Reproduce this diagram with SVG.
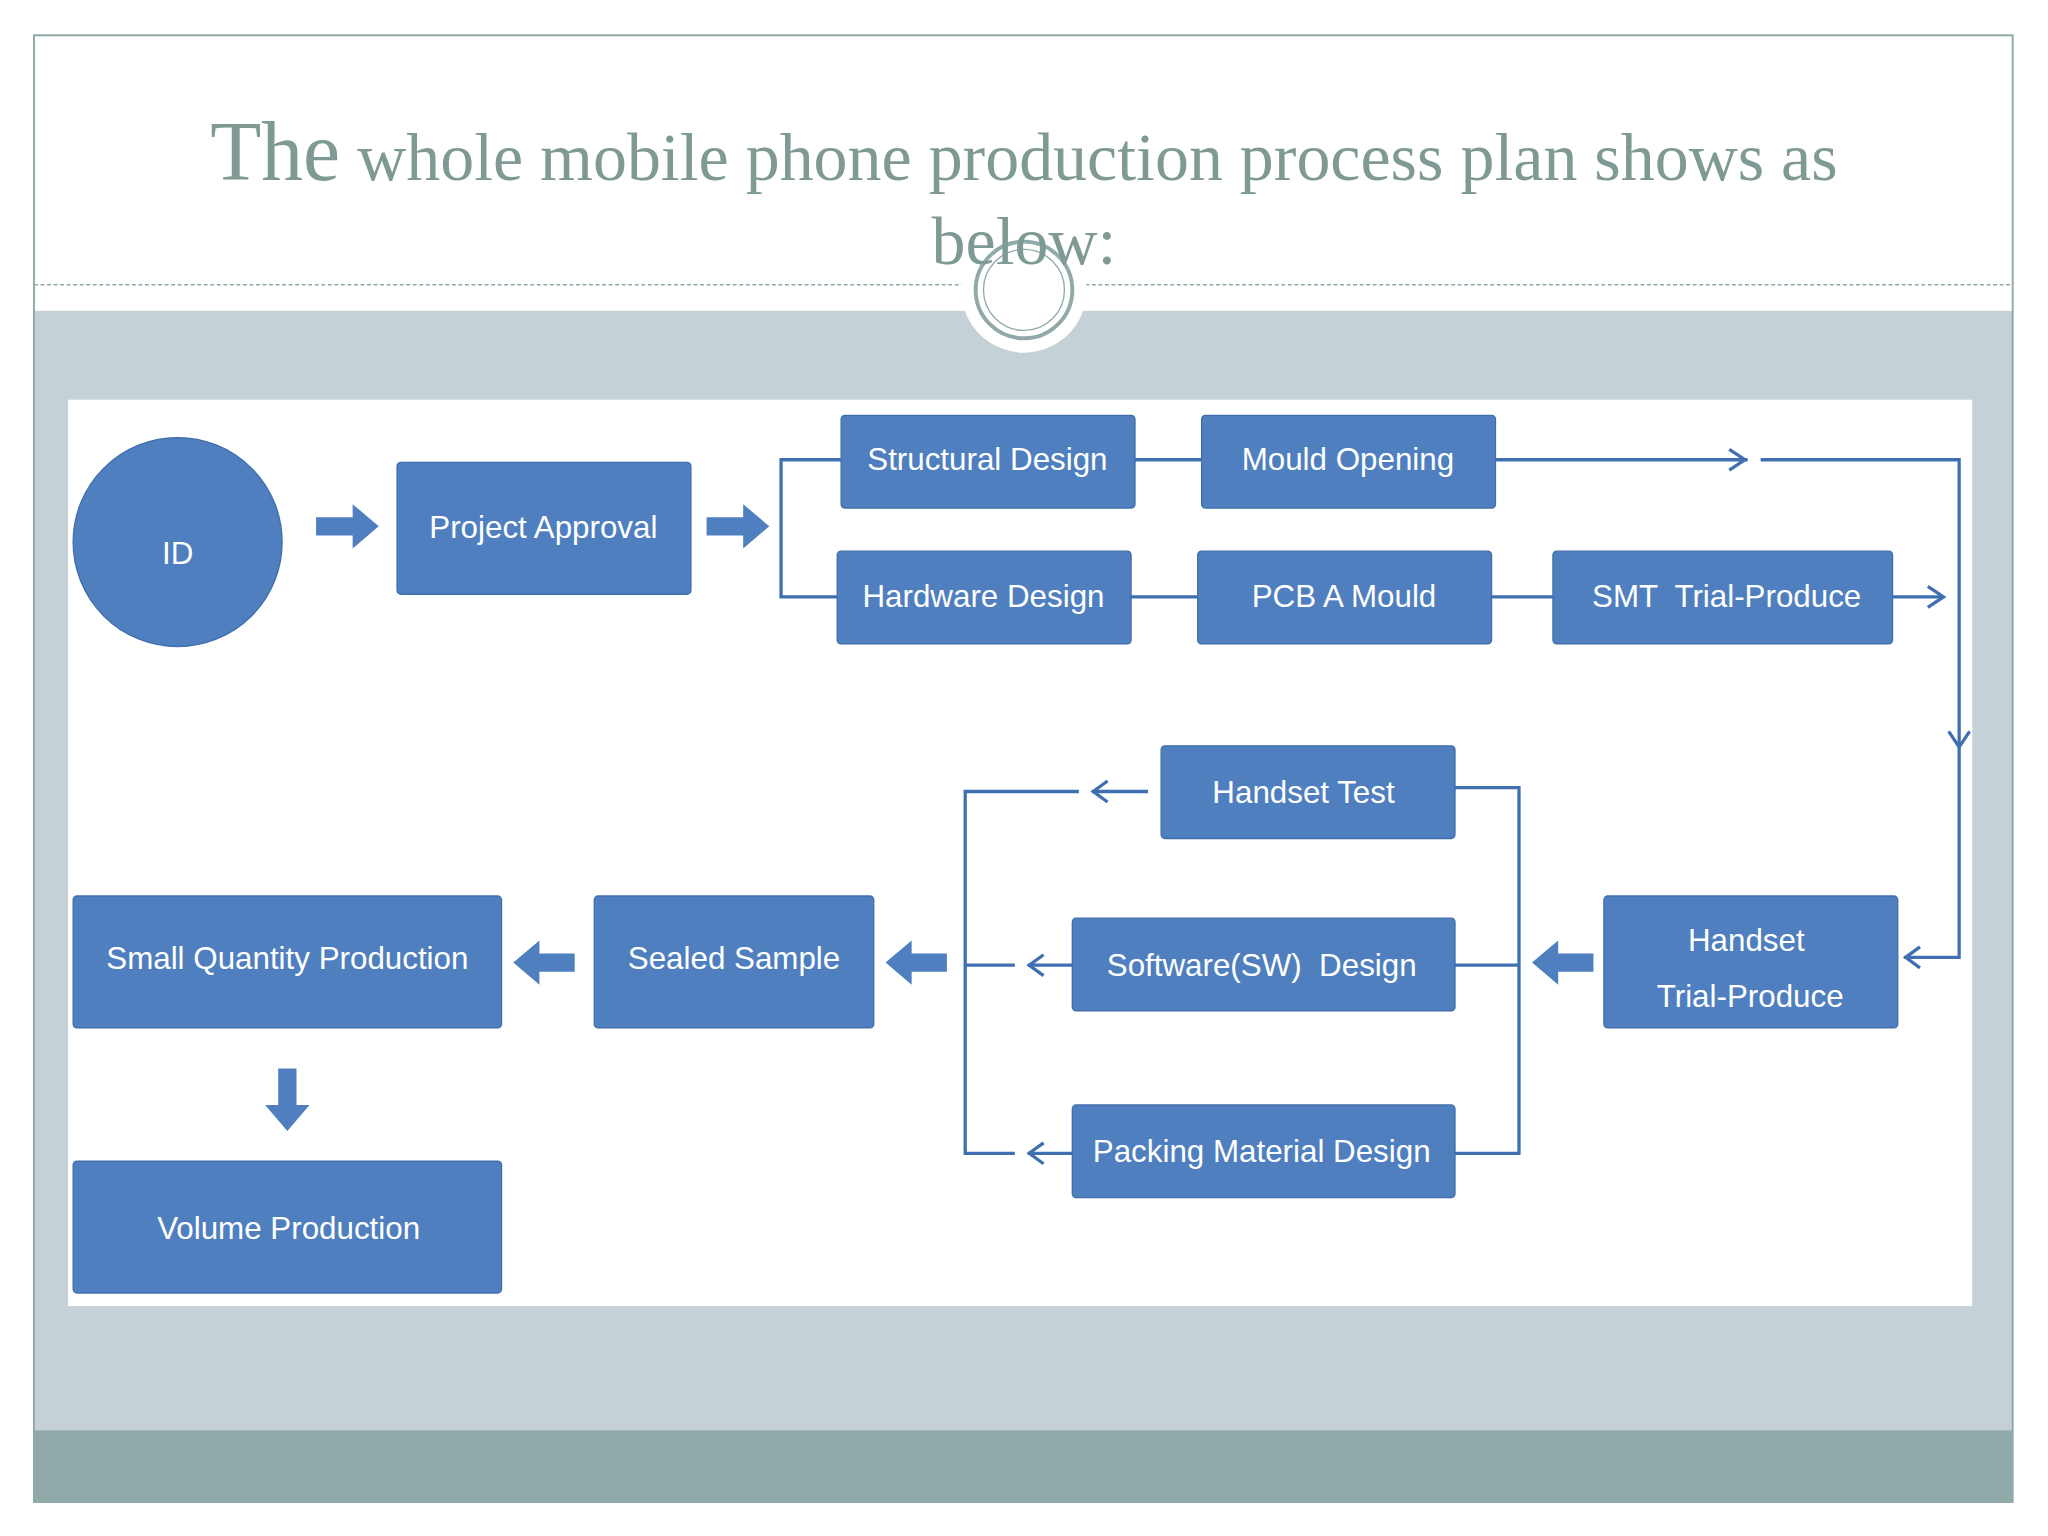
<svg xmlns="http://www.w3.org/2000/svg" width="2048" height="1536" viewBox="0 0 2048 1536">
<style>
.n{fill:#4f7fbf;stroke:#3f6eaa;stroke-width:1}
.t{font-family:"Liberation Sans",Arial,sans-serif;font-size:24px;fill:#fff;text-anchor:middle}
.c{fill:none;stroke:#3f6fb0;stroke-width:2.5}
.b{fill:#4f7fbf}
.ti{font-family:"Liberation Serif","Times New Roman",serif;fill:#7f9a95}
</style>
<rect width="2048" height="1536" fill="#fff"/>
<g transform="scale(1.3061)">
<rect x="26" y="238" width="1515" height="857" fill="#c5d1d7"/>
<rect x="26" y="1095" width="1515" height="55" fill="#8faaa9"/>
<rect x="26" y="27" width="1515" height="1123" fill="none" stroke="#8faaa9" stroke-width="1.5"/>
<line x1="26" y1="218" x2="1541" y2="218" stroke="#8faaa9" stroke-width="1" stroke-dasharray="3,2"/>
<circle cx="784" cy="222" r="48" fill="#fff"/>
<circle cx="784" cy="222" r="37" fill="none" stroke="#8faaa9" stroke-width="3"/>
<circle cx="784" cy="222" r="31" fill="none" stroke="#8faaa9" stroke-width="1"/>
<text class="ti" x="784" y="138" text-anchor="middle" font-size="52"><tspan font-size="64">The</tspan> whole mobile phone production process plan shows as</text>
<text class="ti" x="784" y="202" text-anchor="middle" font-size="52">below:</text>
<rect x="52" y="306" width="1458" height="694" fill="#fff"/>
<g id="connectors">
<path class="c" d="M644,352H598V457H641M869,352H920M866,457H917M1142,457H1189M1145,352H1338M1348,352H1500V733H1458M1449,457H1488"/>
<path class="c" d="M1324,344L1336,352L1324,360M1476,449L1488,457L1476,465M1492,560L1500,572L1508,560M1470,725L1459,733L1470,741"/>
<path class="c" d="M1114,603H1163V883H1114M1114,739H1163"/>
<path class="c" d="M879,606H836M826,606H739V883H777M787,883H821M739,739H777M787,739H821"/>
<path class="c" d="M848,598L837,606L848,614M799,731L788,739L799,747M799,875L788,883L799,891"/>
<path class="b" d="M242,396H270V386L290,403L270,420V410H242Z"/>
<path class="b" d="M541,396H569V386L589,403L569,420V410H541Z"/>
<path class="b" d="M440,730H413V720L393,737L413,754V744H440Z"/>
<path class="b" d="M725,730H698V720L678,737L698,754V744H725Z"/>
<path class="b" d="M1220,730H1193V720L1173,737L1193,754V744H1220Z"/>
<path class="b" d="M213,818V846H203L220,866L237,846H227V818Z"/>
</g>
<g id="id"><circle class="n" cx="136" cy="415" r="80"/><text class="t" x="136" y="432" font-size="48">ID</text></g>
<g id="pa"><rect class="n" x="304" y="354" width="225" height="101" rx="3"/><text class="t" x="416" y="412">Project Approval</text></g>
<g id="sd"><rect class="n" x="644" y="318" width="225" height="71" rx="3"/><text class="t" x="756" y="360">Structural Design</text></g>
<g id="mo"><rect class="n" x="920" y="318" width="225" height="71" rx="3"/><text class="t" x="1032" y="360">Mould Opening</text></g>
<g id="hd"><rect class="n" x="641" y="422" width="225" height="71" rx="3"/><text class="t" x="753" y="465">Hardware Design</text></g>
<g id="pcb"><rect class="n" x="917" y="422" width="225" height="71" rx="3"/><text class="t" x="1029" y="465">PCB A Mould</text></g>
<g id="smt"><rect class="n" x="1189" y="422" width="260" height="71" rx="3"/><text class="t" x="1322" y="465" xml:space="preserve">SMT  Trial-Produce</text></g>
<g id="ht"><rect class="n" x="889" y="571" width="225" height="71" rx="3"/><text class="t" x="998" y="615">Handset Test</text></g>
<g id="sw"><rect class="n" x="821" y="703" width="293" height="71" rx="3"/><text class="t" x="966" y="747" xml:space="preserve">Software(SW)  Design</text></g>
<g id="pm"><rect class="n" x="821" y="846" width="293" height="71" rx="3"/><text class="t" x="966" y="890">Packing Material Design</text></g>
<g id="htp"><rect class="n" x="1228" y="686" width="225" height="101" rx="3"/><text class="t" x="1337" y="728">Handset</text><text class="t" x="1340" y="771">Trial-Produce</text></g>
<g id="ss"><rect class="n" x="455" y="686" width="214" height="101" rx="3"/><text class="t" x="562" y="742">Sealed Sample</text></g>
<g id="sq"><rect class="n" x="56" y="686" width="328" height="101" rx="3"/><text class="t" x="220" y="742">Small Quantity Production</text></g>
<g id="vp"><rect class="n" x="56" y="889" width="328" height="101" rx="3"/><text class="t" x="221" y="949">Volume Production</text></g>
</g>
</svg>
